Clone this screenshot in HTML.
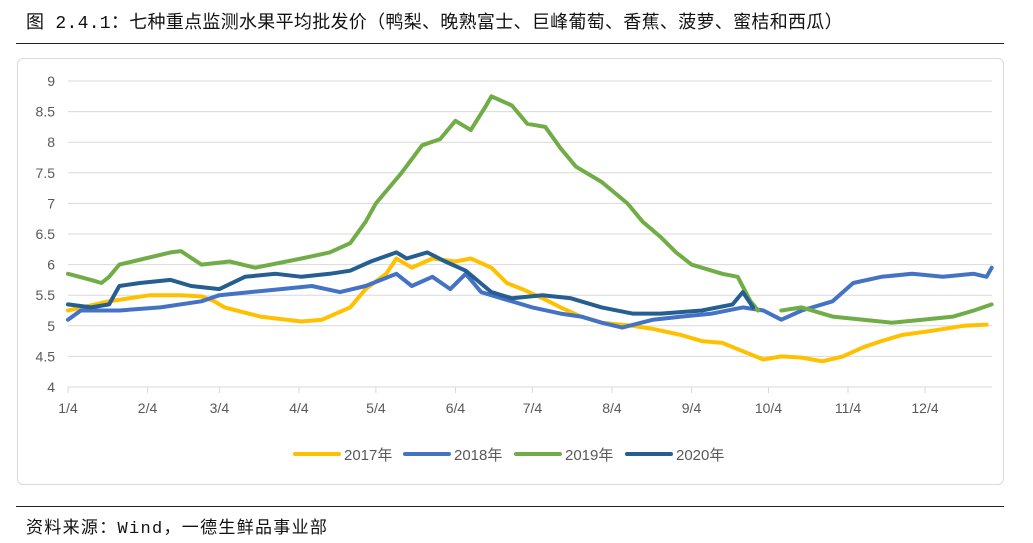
<!DOCTYPE html>
<html><head><meta charset="utf-8"><style>
body{margin:0;width:1033px;height:543px;background:#fff;font-family:"Liberation Sans","Noto Sans CJK SC",sans-serif;position:relative;overflow:hidden}
.t{position:absolute;white-space:nowrap}
</style></head><body>
<div class="t" style="left:26px;top:8px;font-size:18px;color:#111;letter-spacing:0.3px;font-family:'Liberation Mono','Noto Sans CJK SC',monospace">图 2.4.1：七种重点监测水果平均批发价（鸭梨、晚熟富士、巨峰葡萄、香蕉、菠萝、蜜桔和西瓜）</div>
<div style="position:absolute;left:16px;top:43px;width:988px;height:1px;background:#222"></div>
<div style="position:absolute;left:17px;top:58px;width:985px;height:425px;border:1px solid #d9d9d9;border-radius:6px"></div>
<svg id="c" width="1033" height="543" style="position:absolute;left:0;top:0"></svg>
<div style="position:absolute;left:16px;top:506px;width:988px;height:1px;background:#222"></div>
<div class="t" style="left:26px;top:513px;font-size:17px;color:#111;letter-spacing:1.3px;font-family:'Liberation Mono','Noto Sans CJK SC',monospace">资料来源：Wind，一德生鲜品事业部</div>
<script>
const yTicks=[4,4.5,5,5.5,6,6.5,7,7.5,8,8.5,9];
const yTickLabels=["4","4.5","5","5.5","6","6.5","7","7.5","8","8.5","9"];
const xTickDays=[3,34,62,93,123,154,184,215,246,276,307,337];
const xTickLabels=["1/4","2/4","3/4","4/4","5/4","6/4","7/4","8/4","9/4","10/4","11/4","12/4"];
const seriesNames=["2017年","2018年","2019年","2020年"];
const seriesColors=["#FFC000","#4472C4","#70AD47","#255E91"];
const days2017=[3,19,35,47,55,60,64,78,94,102,113,119,127,131,137,145,154,160,168,174,180,188,195,203,211,223,231,242,250,258,268,274,281,289,297,305,313,320,328,340,352,361];
const vals2017=[5.25,5.4,5.5,5.5,5.48,5.4,5.3,5.15,5.07,5.1,5.3,5.6,5.85,6.1,5.95,6.1,6.05,6.1,5.95,5.7,5.6,5.45,5.3,5.15,5.05,5.0,4.95,4.85,4.75,4.72,4.55,4.45,4.5,4.48,4.42,4.5,4.65,4.75,4.85,4.92,5.0,5.02];
const days2018=[3,8,23,39,55,62,74,86,98,109,119,125,131,137,145,152,158,164,172,184,195,203,211,219,231,242,254,266,274,281,289,301,309,320,332,344,356,361,363];
const vals2018=[5.1,5.25,5.25,5.3,5.4,5.5,5.55,5.6,5.65,5.55,5.65,5.75,5.85,5.65,5.8,5.6,5.85,5.55,5.45,5.3,5.2,5.15,5.05,4.97,5.1,5.15,5.2,5.3,5.25,5.1,5.25,5.4,5.7,5.8,5.85,5.8,5.85,5.8,5.95];
const days2019=[3,12,16,19,23,33,43,47,55,66,76,94,105,113,119,123,133,141,148,154,160,166,168,176,182,189,195,201,211,221,227,234,240,246,258,264,269,272,281,289,301,313,324,336,348,356,363];
const vals2019=[5.85,5.75,5.7,5.8,6.0,6.1,6.2,6.22,6.0,6.05,5.95,6.1,6.2,6.35,6.7,7.0,7.5,7.95,8.05,8.35,8.2,8.6,8.75,8.6,8.3,8.25,7.9,7.6,7.35,7.0,6.7,6.45,6.2,6.0,5.85,5.8,5.4,5.25,5.25,5.3,5.15,5.1,5.05,5.1,5.15,5.25,5.35];
const gap2019=[272,281];
const days2020=[3,12,19,23,31,43,51,62,72,84,94,105,113,121,131,135,143,150,158,168,176,188,199,211,223,234,250,262,266,270];
const vals2020=[5.35,5.3,5.35,5.65,5.7,5.75,5.65,5.6,5.8,5.85,5.8,5.85,5.9,6.05,6.2,6.1,6.2,6.05,5.9,5.55,5.45,5.5,5.45,5.3,5.2,5.2,5.25,5.35,5.55,5.3];

const X0=68,X1=925,D0=3,D1=337,Y0=387,Y1=81;
const xs=d=>X0+(d-D0)*(X1-X0)/(D1-D0);
const ys=v=>Y0-(v-4)*(Y0-Y1)/5;
const svg=document.getElementById('c');const NS='http://www.w3.org/2000/svg';
function mk(t,a){const e=document.createElementNS(NS,t);for(const k in a)e.setAttribute(k,a[k]);svg.appendChild(e);return e;}
yTicks.forEach((v,i)=>{
  if(i>0){const g=mk('line',{x1:X0,x2:992,y1:ys(v),y2:ys(v),stroke:'#d9d9d9','stroke-width':1});
  
  }
  const t=mk('text',{x:55,y:ys(v)+5,'text-anchor':'end','font-size':14,fill:'#595959'});t.textContent=yTickLabels[i];
  
  
});
const ax=mk('line',{x1:X0,x2:992,y1:Y0,y2:Y0,stroke:'#d9d9d9','stroke-width':1});


xTickDays.forEach((d,i)=>{
  const tk=mk('line',{x1:xs(d),x2:xs(d),y1:Y0,y2:Y0+6,stroke:'#d9d9d9'});
  
  
  const t=mk('text',{x:xs(d),y:Y0+26,'text-anchor':'middle','font-size':14,fill:'#595959'});t.textContent=xTickLabels[i];
  
  
});
function line(days,vals,col,name,gap){
  let d='',start=true;
  days.forEach((dd,i)=>{
    if(gap&&dd===gap[1])start=true;
    d+=(start?'M':'L')+xs(dd).toFixed(1)+','+ys(vals[i]).toFixed(1);start=false;
  });
  const p=mk('path',{d:d,fill:'none',stroke:col,'stroke-width':4,'stroke-linejoin':'round','stroke-linecap':'round'});
  
  
}
line(days2017,vals2017,seriesColors[0],'series-2017');
line(days2018,vals2018,seriesColors[1],'series-2018');
line(days2019,vals2019,seriesColors[2],'series-2019',gap2019);
line(days2020,vals2020,seriesColors[3],'series-2020');
const lx=[295,405,516,627];
seriesNames.forEach((n,i)=>{
  const l=mk('line',{x1:lx[i],x2:lx[i]+44,y1:454,y2:454,stroke:seriesColors[i],'stroke-width':4,'stroke-linecap':'round'});
  
  
  const t=mk('text',{x:lx[i]+49,y:460,'font-size':15,fill:'#595959'});t.textContent=n;
  
  
});
</script>
</body></html>
